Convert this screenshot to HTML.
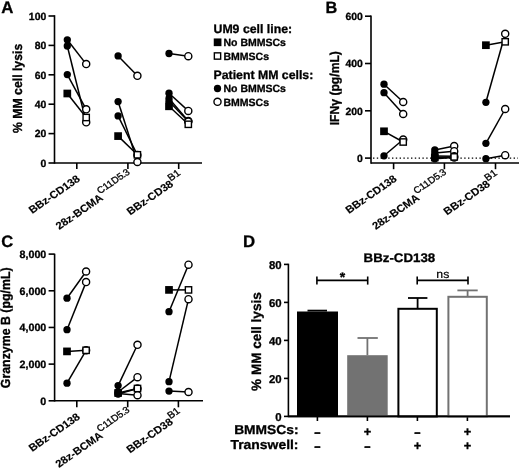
<!DOCTYPE html>
<html><head><meta charset="utf-8"><title>Figure</title>
<style>
html,body{margin:0;padding:0;background:#fff;}
body{width:520px;height:469px;overflow:hidden;}
svg{display:block;font-family:"Liberation Sans", Arial, Helvetica, sans-serif;text-rendering:geometricPrecision;}
</style></head><body>
<svg width="520" height="469" viewBox="0 0 520 469" fill="#000">
<text transform="translate(1.30,13.40) scale(1.0,1)" font-size="16.8" font-weight="bold" text-anchor="start"  stroke="#000" stroke-width="0.3">A</text>
<line x1="54.50" y1="15.20" x2="54.50" y2="163.80" stroke="#000" stroke-width="1.6" />
<line x1="48.50" y1="163.00" x2="54.50" y2="163.00" stroke="#000" stroke-width="1.6" />
<text transform="translate(46.20,166.70) scale(1.0,1)" font-size="10.4" font-weight="bold" text-anchor="end"  stroke="#000" stroke-width="0.3">0</text>
<line x1="48.50" y1="133.60" x2="54.50" y2="133.60" stroke="#000" stroke-width="1.6" />
<text transform="translate(46.20,137.30) scale(1.0,1)" font-size="10.4" font-weight="bold" text-anchor="end"  stroke="#000" stroke-width="0.3">20</text>
<line x1="48.50" y1="104.20" x2="54.50" y2="104.20" stroke="#000" stroke-width="1.6" />
<text transform="translate(46.20,107.90) scale(1.0,1)" font-size="10.4" font-weight="bold" text-anchor="end"  stroke="#000" stroke-width="0.3">40</text>
<line x1="48.50" y1="74.80" x2="54.50" y2="74.80" stroke="#000" stroke-width="1.6" />
<text transform="translate(46.20,78.50) scale(1.0,1)" font-size="10.4" font-weight="bold" text-anchor="end"  stroke="#000" stroke-width="0.3">60</text>
<line x1="48.50" y1="45.40" x2="54.50" y2="45.40" stroke="#000" stroke-width="1.6" />
<text transform="translate(46.20,49.10) scale(1.0,1)" font-size="10.4" font-weight="bold" text-anchor="end"  stroke="#000" stroke-width="0.3">80</text>
<line x1="48.50" y1="16.00" x2="54.50" y2="16.00" stroke="#000" stroke-width="1.6" />
<text transform="translate(46.20,19.70) scale(1.0,1)" font-size="10.4" font-weight="bold" text-anchor="end"  stroke="#000" stroke-width="0.3">100</text>
<line x1="54.50" y1="163.00" x2="202.00" y2="163.00" stroke="#000" stroke-width="1.6" />
<line x1="76.80" y1="163.00" x2="76.80" y2="169.00" stroke="#000" stroke-width="1.6" />
<line x1="127.90" y1="163.00" x2="127.90" y2="169.00" stroke="#000" stroke-width="1.6" />
<line x1="178.70" y1="163.00" x2="178.70" y2="169.00" stroke="#000" stroke-width="1.6" />
<text transform="translate(80.85,180.38) scale(1.07,1) rotate(-36.5)" font-size="10.5" font-weight="bold" text-anchor="end" stroke="#000" stroke-width="0.15">BBz-CD138</text>
<text transform="translate(134.23,178.18) scale(1.07,1) rotate(-36.5)" font-size="10.5" font-weight="bold" text-anchor="end" stroke="#000" stroke-width="0.15">28z-BCMA<tspan font-weight="normal" stroke-width="0.3" font-size="9.4" dy="-6">C11D5<tspan dx="-0.5">.</tspan><tspan dx="-0.5">3</tspan></tspan></text>
<text transform="translate(184.28,178.28) scale(1.07,1) rotate(-36.5)" font-size="10.5" font-weight="bold" text-anchor="end" stroke="#000" stroke-width="0.15">BBz-CD38<tspan font-weight="normal" stroke-width="0.3" font-size="9.8" dy="-5">B1</tspan></text>
<text transform="translate(22.30,88.40) scale(1.07,1) rotate(-90)" font-size="12.25" font-weight="bold" text-anchor="middle"  stroke="#000" stroke-width="0.3">% MM cell lysis</text>
<line x1="67.30" y1="39.80" x2="86.20" y2="64.10" stroke="#000" stroke-width="1.5" />
<line x1="67.30" y1="46.00" x2="86.20" y2="122.30" stroke="#000" stroke-width="1.5" />
<line x1="67.30" y1="74.60" x2="86.20" y2="109.30" stroke="#000" stroke-width="1.5" />
<line x1="67.30" y1="93.50" x2="86.20" y2="117.50" stroke="#000" stroke-width="1.5" />
<circle cx="86.20" cy="64.10" r="3.55" fill="#fff" stroke="#000" stroke-width="1.4"/>
<circle cx="86.20" cy="122.30" r="3.55" fill="#fff" stroke="#000" stroke-width="1.4"/>
<circle cx="86.20" cy="109.30" r="3.55" fill="#fff" stroke="#000" stroke-width="1.4"/>
<rect x="83.05" y="114.35" width="6.300000000000001" height="6.300000000000001" fill="#fff" stroke="#000" stroke-width="1.4"/>
<circle cx="67.30" cy="39.80" r="3.65" fill="#000"/>
<circle cx="67.30" cy="46.00" r="3.65" fill="#000"/>
<circle cx="67.30" cy="74.60" r="3.65" fill="#000"/>
<rect x="63.45" y="89.65" width="7.7" height="7.7" fill="#000"/>
<line x1="118.10" y1="55.90" x2="137.40" y2="75.80" stroke="#000" stroke-width="1.5" />
<line x1="118.10" y1="115.90" x2="137.40" y2="155.00" stroke="#000" stroke-width="1.5" />
<line x1="118.10" y1="136.10" x2="137.40" y2="154.80" stroke="#000" stroke-width="1.5" />
<line x1="118.10" y1="101.60" x2="137.40" y2="162.00" stroke="#000" stroke-width="1.5" />
<circle cx="137.40" cy="75.80" r="3.55" fill="#fff" stroke="#000" stroke-width="1.4"/>
<circle cx="137.40" cy="155.00" r="3.55" fill="#fff" stroke="#000" stroke-width="1.4"/>
<rect x="134.25" y="151.65" width="6.300000000000001" height="6.300000000000001" fill="#fff" stroke="#000" stroke-width="1.4"/>
<circle cx="137.40" cy="162.00" r="3.55" fill="#fff" stroke="#000" stroke-width="1.4"/>
<circle cx="118.10" cy="55.90" r="3.65" fill="#000"/>
<circle cx="118.10" cy="115.90" r="3.65" fill="#000"/>
<rect x="114.25" y="132.25" width="7.7" height="7.7" fill="#000"/>
<circle cx="118.10" cy="101.60" r="3.65" fill="#000"/>
<line x1="169.00" y1="53.50" x2="188.30" y2="56.20" stroke="#000" stroke-width="1.5" />
<line x1="169.00" y1="93.20" x2="188.30" y2="110.90" stroke="#000" stroke-width="1.5" />
<line x1="169.00" y1="98.40" x2="188.30" y2="121.00" stroke="#000" stroke-width="1.5" />
<line x1="169.00" y1="101.30" x2="188.30" y2="121.50" stroke="#000" stroke-width="1.5" />
<line x1="169.00" y1="106.30" x2="188.30" y2="124.30" stroke="#000" stroke-width="1.5" />
<circle cx="188.30" cy="56.20" r="3.55" fill="#fff" stroke="#000" stroke-width="1.4"/>
<circle cx="188.30" cy="110.90" r="3.55" fill="#fff" stroke="#000" stroke-width="1.4"/>
<circle cx="188.30" cy="121.00" r="3.55" fill="#fff" stroke="#000" stroke-width="1.4"/>
<circle cx="188.30" cy="121.50" r="3.55" fill="#fff" stroke="#000" stroke-width="1.4"/>
<rect x="185.15" y="121.15" width="6.300000000000001" height="6.300000000000001" fill="#fff" stroke="#000" stroke-width="1.4"/>
<circle cx="169.00" cy="53.50" r="3.65" fill="#000"/>
<circle cx="169.00" cy="93.20" r="3.65" fill="#000"/>
<circle cx="169.00" cy="98.40" r="3.65" fill="#000"/>
<circle cx="169.00" cy="101.30" r="3.65" fill="#000"/>
<rect x="165.15" y="102.45" width="7.7" height="7.7" fill="#000"/>
<text transform="translate(213.50,33.00) scale(1.0,1)" font-size="12.3" font-weight="bold" text-anchor="start"  stroke="#000" stroke-width="0.3">UM9 cell line:</text>
<rect x="213.75" y="38.45" width="7.7" height="7.7" fill="#000"/>
<text transform="translate(223.50,46.20) scale(1.0,1)" font-size="10.5" font-weight="bold" text-anchor="start"  stroke="#000" stroke-width="0.3">No BMMSCs</text>
<rect x="214.35" y="52.85" width="6.300000000000001" height="6.300000000000001" fill="#fff" stroke="#000" stroke-width="1.4"/>
<text transform="translate(223.50,59.60) scale(1.0,1)" font-size="10.5" font-weight="bold" text-anchor="start"  stroke="#000" stroke-width="0.3">BMMSCs</text>
<text transform="translate(213.50,79.30) scale(1.0,1)" font-size="12.3" font-weight="bold" text-anchor="start"  stroke="#000" stroke-width="0.3">Patient MM cells:</text>
<circle cx="217.50" cy="88.50" r="3.65" fill="#000"/>
<text transform="translate(223.50,92.20) scale(1.0,1)" font-size="10.5" font-weight="bold" text-anchor="start"  stroke="#000" stroke-width="0.3">No BMMSCs</text>
<circle cx="217.50" cy="101.80" r="3.55" fill="#fff" stroke="#000" stroke-width="1.4"/>
<text transform="translate(223.50,105.50) scale(1.0,1)" font-size="10.5" font-weight="bold" text-anchor="start"  stroke="#000" stroke-width="0.3">BMMSCs</text>
<text transform="translate(325.60,13.10) scale(1.0,1)" font-size="16.3" font-weight="bold" text-anchor="start"  stroke="#000" stroke-width="0.3">B</text>
<line x1="371.00" y1="15.40" x2="371.00" y2="163.80" stroke="#000" stroke-width="1.6" />
<line x1="365.00" y1="158.10" x2="371.00" y2="158.10" stroke="#000" stroke-width="1.6" />
<text transform="translate(362.80,161.80) scale(1.0,1)" font-size="10.4" font-weight="bold" text-anchor="end"  stroke="#000" stroke-width="0.3">0</text>
<line x1="365.00" y1="110.80" x2="371.00" y2="110.80" stroke="#000" stroke-width="1.6" />
<text transform="translate(362.80,114.50) scale(1.0,1)" font-size="10.4" font-weight="bold" text-anchor="end"  stroke="#000" stroke-width="0.3">200</text>
<line x1="365.00" y1="63.50" x2="371.00" y2="63.50" stroke="#000" stroke-width="1.6" />
<text transform="translate(362.80,67.20) scale(1.0,1)" font-size="10.4" font-weight="bold" text-anchor="end"  stroke="#000" stroke-width="0.3">400</text>
<line x1="365.00" y1="16.20" x2="371.00" y2="16.20" stroke="#000" stroke-width="1.6" />
<text transform="translate(362.80,19.90) scale(1.0,1)" font-size="10.4" font-weight="bold" text-anchor="end"  stroke="#000" stroke-width="0.3">600</text>
<line x1="371.00" y1="163.00" x2="519.00" y2="163.00" stroke="#000" stroke-width="1.6" />
<line x1="393.60" y1="163.00" x2="393.60" y2="169.20" stroke="#000" stroke-width="1.6" />
<line x1="444.40" y1="163.00" x2="444.40" y2="169.20" stroke="#000" stroke-width="1.6" />
<line x1="495.50" y1="163.00" x2="495.50" y2="169.20" stroke="#000" stroke-width="1.6" />
<line x1="373.0" y1="158.1" x2="518" y2="158.1" stroke="#000" stroke-width="1.3" stroke-dasharray="1.4 2.4"/>
<text transform="translate(397.65,180.38) scale(1.07,1) rotate(-36.5)" font-size="10.5" font-weight="bold" text-anchor="end" stroke="#000" stroke-width="0.15">BBz-CD138</text>
<text transform="translate(450.73,178.18) scale(1.07,1) rotate(-36.5)" font-size="10.5" font-weight="bold" text-anchor="end" stroke="#000" stroke-width="0.15">28z-BCMA<tspan font-weight="normal" stroke-width="0.3" font-size="9.4" dy="-6">C11D5<tspan dx="-0.5">.</tspan><tspan dx="-0.5">3</tspan></tspan></text>
<text transform="translate(501.08,178.28) scale(1.07,1) rotate(-36.5)" font-size="10.5" font-weight="bold" text-anchor="end" stroke="#000" stroke-width="0.15">BBz-CD38<tspan font-weight="normal" stroke-width="0.3" font-size="9.8" dy="-5">B1</tspan></text>
<text transform="translate(339.20,88.20) scale(1.07,1) rotate(-90)" font-size="12.15" font-weight="bold" text-anchor="middle"  stroke="#000" stroke-width="0.3">IFN&#947; (pg/mL)</text>
<line x1="384.00" y1="84.20" x2="403.20" y2="102.00" stroke="#000" stroke-width="1.5" />
<line x1="384.00" y1="92.70" x2="403.20" y2="114.00" stroke="#000" stroke-width="1.5" />
<line x1="384.00" y1="155.80" x2="403.20" y2="139.50" stroke="#000" stroke-width="1.5" />
<line x1="384.00" y1="131.30" x2="403.20" y2="142.00" stroke="#000" stroke-width="1.5" />
<circle cx="403.20" cy="102.00" r="3.55" fill="#fff" stroke="#000" stroke-width="1.4"/>
<circle cx="403.20" cy="114.00" r="3.55" fill="#fff" stroke="#000" stroke-width="1.4"/>
<circle cx="403.20" cy="139.50" r="3.55" fill="#fff" stroke="#000" stroke-width="1.4"/>
<rect x="400.05" y="138.85" width="6.300000000000001" height="6.300000000000001" fill="#fff" stroke="#000" stroke-width="1.4"/>
<circle cx="384.00" cy="84.20" r="3.65" fill="#000"/>
<circle cx="384.00" cy="92.70" r="3.65" fill="#000"/>
<circle cx="384.00" cy="155.80" r="3.65" fill="#000"/>
<rect x="380.15" y="127.45" width="7.7" height="7.7" fill="#000"/>
<line x1="434.80" y1="150.00" x2="454.20" y2="146.00" stroke="#000" stroke-width="1.5" />
<line x1="434.80" y1="153.00" x2="454.20" y2="151.20" stroke="#000" stroke-width="1.5" />
<line x1="434.80" y1="156.00" x2="454.20" y2="156.20" stroke="#000" stroke-width="1.5" />
<line x1="434.80" y1="158.80" x2="454.20" y2="157.50" stroke="#000" stroke-width="1.5" />
<line x1="434.80" y1="157.50" x2="454.20" y2="156.90" stroke="#000" stroke-width="1.5" />
<circle cx="454.20" cy="146.00" r="3.55" fill="#fff" stroke="#000" stroke-width="1.4"/>
<circle cx="454.20" cy="151.20" r="3.55" fill="#fff" stroke="#000" stroke-width="1.4"/>
<circle cx="454.20" cy="156.20" r="3.55" fill="#fff" stroke="#000" stroke-width="1.4"/>
<circle cx="454.20" cy="157.50" r="3.55" fill="#fff" stroke="#000" stroke-width="1.4"/>
<rect x="451.05" y="153.75" width="6.300000000000001" height="6.300000000000001" fill="#fff" stroke="#000" stroke-width="1.4"/>
<circle cx="434.80" cy="150.00" r="3.65" fill="#000"/>
<circle cx="434.80" cy="153.00" r="3.65" fill="#000"/>
<circle cx="434.80" cy="156.00" r="3.65" fill="#000"/>
<circle cx="434.80" cy="158.80" r="3.65" fill="#000"/>
<rect x="430.95" y="153.65" width="7.7" height="7.7" fill="#000"/>
<line x1="485.90" y1="102.30" x2="505.20" y2="33.80" stroke="#000" stroke-width="1.5" />
<line x1="485.90" y1="143.30" x2="505.20" y2="109.00" stroke="#000" stroke-width="1.5" />
<line x1="485.90" y1="158.70" x2="505.20" y2="155.20" stroke="#000" stroke-width="1.5" />
<line x1="485.90" y1="45.20" x2="505.20" y2="41.80" stroke="#000" stroke-width="1.5" />
<circle cx="505.20" cy="33.80" r="3.55" fill="#fff" stroke="#000" stroke-width="1.4"/>
<circle cx="505.20" cy="109.00" r="3.55" fill="#fff" stroke="#000" stroke-width="1.4"/>
<circle cx="505.20" cy="155.20" r="3.55" fill="#fff" stroke="#000" stroke-width="1.4"/>
<rect x="502.05" y="38.65" width="6.300000000000001" height="6.300000000000001" fill="#fff" stroke="#000" stroke-width="1.4"/>
<circle cx="485.90" cy="102.30" r="3.65" fill="#000"/>
<circle cx="485.90" cy="143.30" r="3.65" fill="#000"/>
<circle cx="485.90" cy="158.70" r="3.65" fill="#000"/>
<rect x="482.05" y="41.35" width="7.7" height="7.7" fill="#000"/>
<text transform="translate(1.30,246.90) scale(1.0,1)" font-size="16.5" font-weight="bold" text-anchor="start"  stroke="#000" stroke-width="0.3">C</text>
<line x1="54.60" y1="253.70" x2="54.60" y2="401.60" stroke="#000" stroke-width="1.6" />
<line x1="48.60" y1="400.80" x2="54.60" y2="400.80" stroke="#000" stroke-width="1.6" />
<text transform="translate(46.30,404.60) scale(1.0,1)" font-size="10.7" font-weight="bold" text-anchor="end"  stroke="#000" stroke-width="0.3">0</text>
<line x1="48.60" y1="364.12" x2="54.60" y2="364.12" stroke="#000" stroke-width="1.6" />
<text transform="translate(46.30,367.93) scale(1.0,1)" font-size="10.7" font-weight="bold" text-anchor="end"  stroke="#000" stroke-width="0.3">2,000</text>
<line x1="48.60" y1="327.45" x2="54.60" y2="327.45" stroke="#000" stroke-width="1.6" />
<text transform="translate(46.30,331.25) scale(1.0,1)" font-size="10.7" font-weight="bold" text-anchor="end"  stroke="#000" stroke-width="0.3">4,000</text>
<line x1="48.60" y1="290.78" x2="54.60" y2="290.78" stroke="#000" stroke-width="1.6" />
<text transform="translate(46.30,294.58) scale(1.0,1)" font-size="10.7" font-weight="bold" text-anchor="end"  stroke="#000" stroke-width="0.3">6,000</text>
<line x1="48.60" y1="254.10" x2="54.60" y2="254.10" stroke="#000" stroke-width="1.6" />
<text transform="translate(46.30,257.90) scale(1.0,1)" font-size="10.7" font-weight="bold" text-anchor="end"  stroke="#000" stroke-width="0.3">8,000</text>
<line x1="54.60" y1="400.80" x2="203.00" y2="400.80" stroke="#000" stroke-width="1.6" />
<line x1="76.80" y1="400.80" x2="76.80" y2="407.30" stroke="#000" stroke-width="1.6" />
<line x1="127.70" y1="400.80" x2="127.70" y2="407.30" stroke="#000" stroke-width="1.6" />
<line x1="178.40" y1="400.80" x2="178.40" y2="407.30" stroke="#000" stroke-width="1.6" />
<text transform="translate(80.85,418.28) scale(1.07,1) rotate(-36.5)" font-size="10.5" font-weight="bold" text-anchor="end" stroke="#000" stroke-width="0.15">BBz-CD138</text>
<text transform="translate(134.03,416.08) scale(1.07,1) rotate(-36.5)" font-size="10.5" font-weight="bold" text-anchor="end" stroke="#000" stroke-width="0.15">28z-BCMA<tspan font-weight="normal" stroke-width="0.3" font-size="9.4" dy="-6">C11D5<tspan dx="-0.5">.</tspan><tspan dx="-0.5">3</tspan></tspan></text>
<text transform="translate(183.98,416.18) scale(1.07,1) rotate(-36.5)" font-size="10.5" font-weight="bold" text-anchor="end" stroke="#000" stroke-width="0.15">BBz-CD38<tspan font-weight="normal" stroke-width="0.3" font-size="9.8" dy="-5">B1</tspan></text>
<text transform="translate(10.30,327.80) scale(1.07,1) rotate(-90)" font-size="12.35" font-weight="bold" text-anchor="middle"  stroke="#000" stroke-width="0.3">Granzyme B (pg/mL)</text>
<line x1="67.00" y1="298.20" x2="86.10" y2="271.50" stroke="#000" stroke-width="1.5" />
<line x1="67.00" y1="329.70" x2="86.10" y2="282.10" stroke="#000" stroke-width="1.5" />
<line x1="67.00" y1="383.20" x2="86.10" y2="350.30" stroke="#000" stroke-width="1.5" />
<line x1="67.00" y1="351.40" x2="86.10" y2="350.30" stroke="#000" stroke-width="1.5" />
<circle cx="86.10" cy="271.50" r="3.55" fill="#fff" stroke="#000" stroke-width="1.4"/>
<circle cx="86.10" cy="282.10" r="3.55" fill="#fff" stroke="#000" stroke-width="1.4"/>
<circle cx="86.10" cy="350.30" r="3.55" fill="#fff" stroke="#000" stroke-width="1.4"/>
<rect x="82.95" y="347.15" width="6.300000000000001" height="6.300000000000001" fill="#fff" stroke="#000" stroke-width="1.4"/>
<circle cx="67.00" cy="298.20" r="3.65" fill="#000"/>
<circle cx="67.00" cy="329.70" r="3.65" fill="#000"/>
<circle cx="67.00" cy="383.20" r="3.65" fill="#000"/>
<rect x="63.15" y="347.55" width="7.7" height="7.7" fill="#000"/>
<line x1="118.10" y1="385.60" x2="137.50" y2="344.80" stroke="#000" stroke-width="1.5" />
<line x1="118.10" y1="392.00" x2="137.50" y2="377.20" stroke="#000" stroke-width="1.5" />
<line x1="118.10" y1="394.00" x2="137.50" y2="388.50" stroke="#000" stroke-width="1.5" />
<line x1="118.10" y1="393.50" x2="137.50" y2="395.20" stroke="#000" stroke-width="1.5" />
<line x1="118.10" y1="393.00" x2="137.50" y2="388.50" stroke="#000" stroke-width="1.5" />
<circle cx="137.50" cy="344.80" r="3.55" fill="#fff" stroke="#000" stroke-width="1.4"/>
<circle cx="137.50" cy="377.20" r="3.55" fill="#fff" stroke="#000" stroke-width="1.4"/>
<circle cx="137.50" cy="388.50" r="3.55" fill="#fff" stroke="#000" stroke-width="1.4"/>
<circle cx="137.50" cy="395.20" r="3.55" fill="#fff" stroke="#000" stroke-width="1.4"/>
<rect x="134.35" y="385.35" width="6.300000000000001" height="6.300000000000001" fill="#fff" stroke="#000" stroke-width="1.4"/>
<circle cx="118.10" cy="385.60" r="3.65" fill="#000"/>
<circle cx="118.10" cy="392.00" r="3.65" fill="#000"/>
<circle cx="118.10" cy="394.00" r="3.65" fill="#000"/>
<circle cx="118.10" cy="393.50" r="3.65" fill="#000"/>
<rect x="114.25" y="389.15" width="7.7" height="7.7" fill="#000"/>
<line x1="169.00" y1="311.70" x2="188.50" y2="264.70" stroke="#000" stroke-width="1.5" />
<line x1="169.00" y1="381.70" x2="188.50" y2="299.20" stroke="#000" stroke-width="1.5" />
<line x1="169.00" y1="391.10" x2="188.50" y2="392.00" stroke="#000" stroke-width="1.5" />
<line x1="169.00" y1="289.90" x2="188.50" y2="289.90" stroke="#000" stroke-width="1.5" />
<circle cx="188.50" cy="264.70" r="3.55" fill="#fff" stroke="#000" stroke-width="1.4"/>
<circle cx="188.50" cy="299.20" r="3.55" fill="#fff" stroke="#000" stroke-width="1.4"/>
<circle cx="188.50" cy="392.00" r="3.55" fill="#fff" stroke="#000" stroke-width="1.4"/>
<rect x="185.35" y="286.75" width="6.300000000000001" height="6.300000000000001" fill="#fff" stroke="#000" stroke-width="1.4"/>
<circle cx="169.00" cy="311.70" r="3.65" fill="#000"/>
<circle cx="169.00" cy="381.70" r="3.65" fill="#000"/>
<circle cx="169.00" cy="391.10" r="3.65" fill="#000"/>
<rect x="165.15" y="286.05" width="7.7" height="7.7" fill="#000"/>
<text transform="translate(242.90,247.30) scale(1.0,1)" font-size="16.8" font-weight="bold" text-anchor="start"  stroke="#000" stroke-width="0.3">D</text>
<line x1="288.40" y1="263.70" x2="288.40" y2="417.20" stroke="#000" stroke-width="1.6" />
<line x1="284.00" y1="416.40" x2="288.40" y2="416.40" stroke="#000" stroke-width="1.6" />
<text transform="translate(281.60,420.90) scale(1.0,1)" font-size="11.4" font-weight="bold" text-anchor="end"  stroke="#000" stroke-width="0.3">0</text>
<line x1="284.00" y1="378.40" x2="288.40" y2="378.40" stroke="#000" stroke-width="1.6" />
<text transform="translate(281.60,382.90) scale(1.0,1)" font-size="11.4" font-weight="bold" text-anchor="end"  stroke="#000" stroke-width="0.3">20</text>
<line x1="284.00" y1="340.40" x2="288.40" y2="340.40" stroke="#000" stroke-width="1.6" />
<text transform="translate(281.60,344.90) scale(1.0,1)" font-size="11.4" font-weight="bold" text-anchor="end"  stroke="#000" stroke-width="0.3">40</text>
<line x1="284.00" y1="302.40" x2="288.40" y2="302.40" stroke="#000" stroke-width="1.6" />
<text transform="translate(281.60,306.90) scale(1.0,1)" font-size="11.4" font-weight="bold" text-anchor="end"  stroke="#000" stroke-width="0.3">60</text>
<line x1="284.00" y1="264.40" x2="288.40" y2="264.40" stroke="#000" stroke-width="1.6" />
<text transform="translate(281.60,268.90) scale(1.0,1)" font-size="11.4" font-weight="bold" text-anchor="end"  stroke="#000" stroke-width="0.3">80</text>
<line x1="288.40" y1="416.40" x2="510.00" y2="416.40" stroke="#000" stroke-width="1.6" />
<line x1="317.40" y1="416.40" x2="317.40" y2="421.00" stroke="#000" stroke-width="1.6" />
<line x1="367.40" y1="416.40" x2="367.40" y2="421.00" stroke="#000" stroke-width="1.6" />
<line x1="417.40" y1="416.40" x2="417.40" y2="421.00" stroke="#000" stroke-width="1.6" />
<line x1="467.40" y1="416.40" x2="467.40" y2="421.00" stroke="#000" stroke-width="1.6" />
<text transform="translate(261.00,341.60) scale(1.0,1) rotate(-90)" font-size="13.55" font-weight="bold" text-anchor="middle"  stroke="#000" stroke-width="0.3">% MM cell lysis</text>
<text transform="translate(399.40,262.10) scale(1.07,1)" font-size="12.45" font-weight="bold" text-anchor="middle"  stroke="#000" stroke-width="0.3">BBz-CD138</text>
<rect x="297" y="311.5" width="41" height="104.89999999999998" fill="#000"/>
<line x1="307.50" y1="310.60" x2="327.00" y2="310.60" stroke="#000" stroke-width="1.8" />
<rect x="347.2" y="355.2" width="40.5" height="61.19999999999999" fill="#727272"/>
<line x1="367.40" y1="355.20" x2="367.40" y2="338.00" stroke="#727272" stroke-width="1.8" />
<line x1="357.50" y1="338.00" x2="377.80" y2="338.00" stroke="#727272" stroke-width="1.8" />
<rect x="398.4" y="308.8" width="38.4" height="107.59999999999997" fill="#fff" stroke="#000" stroke-width="2"/>
<line x1="417.60" y1="308.20" x2="417.60" y2="298.00" stroke="#000" stroke-width="1.8" />
<line x1="408.00" y1="298.00" x2="427.40" y2="298.00" stroke="#000" stroke-width="1.8" />
<rect x="448.4" y="296.8" width="38.4" height="119.59999999999997" fill="#fff" stroke="#727272" stroke-width="2"/>
<line x1="467.60" y1="296.20" x2="467.60" y2="290.40" stroke="#727272" stroke-width="1.8" />
<line x1="457.40" y1="290.40" x2="477.70" y2="290.40" stroke="#727272" stroke-width="1.8" />
<line x1="288.40" y1="416.40" x2="510.00" y2="416.40" stroke="#000" stroke-width="1.6" />
<line x1="316.90" y1="280.40" x2="367.70" y2="280.40" stroke="#000" stroke-width="1.7" />
<line x1="316.90" y1="276.50" x2="316.90" y2="284.60" stroke="#000" stroke-width="1.6" />
<line x1="367.70" y1="276.50" x2="367.70" y2="284.60" stroke="#000" stroke-width="1.6" />
<text transform="translate(342.40,282.00) scale(1.0,1)" font-size="14.0" font-weight="bold" text-anchor="middle" stroke="#000" stroke-width="0.25">*</text>
<line x1="417.20" y1="280.40" x2="468.00" y2="280.40" stroke="#000" stroke-width="1.7" />
<line x1="417.20" y1="276.50" x2="417.20" y2="284.60" stroke="#000" stroke-width="1.6" />
<line x1="468.00" y1="276.50" x2="468.00" y2="284.60" stroke="#000" stroke-width="1.6" />
<text transform="translate(442.80,278.00) scale(1.07,1)" font-size="11.5" font-weight="normal" text-anchor="middle" stroke="#000" stroke-width="0.2">ns</text>
<text transform="translate(298.50,434.20) scale(1.07,1)" font-size="12.9" font-weight="bold" text-anchor="end"  stroke="#000" stroke-width="0.3">BMMSCs:</text>
<text transform="translate(298.50,448.80) scale(1.07,1)" font-size="13.0" font-weight="bold" text-anchor="end"  stroke="#000" stroke-width="0.3">Transwell:</text>
<text transform="translate(317.40,435.70) scale(1.0,1)" font-size="10.5" font-weight="bold" text-anchor="middle" stroke="#000" stroke-width="0.7">&#8211;</text>
<text transform="translate(317.40,449.70) scale(1.0,1)" font-size="10.5" font-weight="bold" text-anchor="middle" stroke="#000" stroke-width="0.7">&#8211;</text>
<text transform="translate(367.40,436.10) scale(1.0,1)" font-size="12.8" font-weight="bold" text-anchor="middle" stroke="#000" stroke-width="0.35">+</text>
<text transform="translate(367.40,449.70) scale(1.0,1)" font-size="10.5" font-weight="bold" text-anchor="middle" stroke="#000" stroke-width="0.7">&#8211;</text>
<text transform="translate(417.40,435.70) scale(1.0,1)" font-size="10.5" font-weight="bold" text-anchor="middle" stroke="#000" stroke-width="0.7">&#8211;</text>
<text transform="translate(417.40,450.10) scale(1.0,1)" font-size="12.8" font-weight="bold" text-anchor="middle" stroke="#000" stroke-width="0.35">+</text>
<text transform="translate(467.40,436.10) scale(1.0,1)" font-size="12.8" font-weight="bold" text-anchor="middle" stroke="#000" stroke-width="0.35">+</text>
<text transform="translate(467.40,450.10) scale(1.0,1)" font-size="12.8" font-weight="bold" text-anchor="middle" stroke="#000" stroke-width="0.35">+</text>
</svg>
</body></html>
